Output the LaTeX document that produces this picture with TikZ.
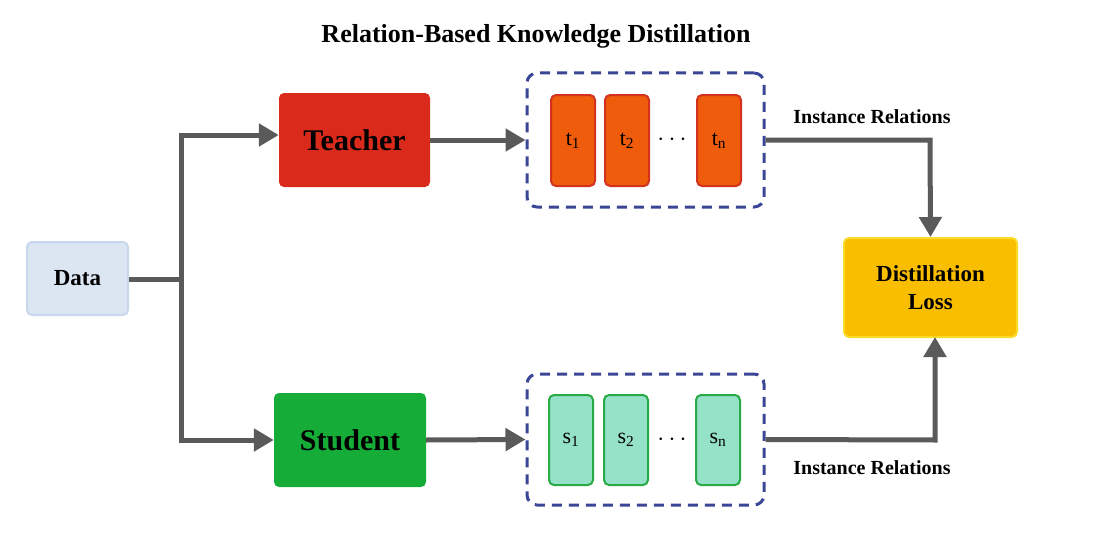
\documentclass[tikz,border=0pt]{standalone}
\usepackage{fontspec}
\setmainfont{Liberation Serif}
\usetikzlibrary{arrows.meta}
\definecolor{arr}{RGB}{90,90,90}
\definecolor{dblue}{RGB}{60,70,150}
\definecolor{datab}{RGB}{220,230,242}
\definecolor{datae}{RGB}{200,215,235}
\definecolor{tred}{RGB}{218,42,28}
\definecolor{sgreen}{RGB}{22,172,56}
\definecolor{torange}{RGB}{238,92,12}
\definecolor{tedge}{RGB}{210,50,30}
\definecolor{steal}{RGB}{150,226,200}
\definecolor{sedge}{RGB}{40,170,70}
\definecolor{gold}{RGB}{250,190,0}
\definecolor{goldedge}{RGB}{250,220,40}
\tikzset{
 box/.style={rounded corners=5pt, minimum width=#1, font=\bfseries\fontsize{30}{34}\selectfont},
 conn/.style={draw=arr, line width=5pt, -{Triangle[length=20pt,width=22pt]}},
 line/.style={draw=arr, line width=5pt},
 dbox/.style={draw=dblue, line width=3pt, dash pattern=on 10pt off 7pt, rounded corners=10pt},
 tcell/.style={fill=torange, draw=tedge, line width=2pt, rounded corners=5pt, minimum width=44pt, minimum height=91pt, font=\fontsize{22}{24}\selectfont},
 scell/.style={fill=steal, draw=sedge, line width=2pt, rounded corners=5pt, minimum width=44pt, minimum height=90pt, font=\fontsize{22}{24}\selectfont},
 lab/.style={font=\bfseries\fontsize{20}{22}\selectfont},
}
\begin{document}
\begin{tikzpicture}[x=1pt,y=-1pt]
\useasboundingbox (0,0) rectangle (1116,535);
\node[font=\bfseries\fontsize{26}{30}\selectfont] (title) at (536,36) {Relation-Based Knowledge Distillation};
\node[box=101pt, minimum height=73pt, fill=datab, draw=datae, line width=2pt, font=\bfseries\fontsize{23}{26}\selectfont] (data) at (77.5,278.5) {Data};
\node[box=151pt, minimum height=94pt, fill=tred] (teacher) at (354.5,140) {Teacher};
\node[box=152pt, minimum height=94pt, fill=sgreen] (student) at (350,440) {Student};
\node[dbox, minimum width=237pt, minimum height=134pt] (tbox) at (645.5,140) {};
\node[dbox, minimum width=237pt, minimum height=131pt] (sbox) at (645.5,439.5) {};
\node[tcell] (t1) at (573,140.5) {t\textsubscript{1}};
\node[tcell] (t2) at (627,140.5) {t\textsubscript{2}};
\node[tcell] (tn) at (719,140.5) {t\textsubscript{n}};
\node[font=\bfseries\fontsize{24}{26}\selectfont] (td) at (672,140) {$\cdots$};
\node[scell] (s1) at (571,440) {s\textsubscript{1}};
\node[scell] (s2) at (626,440) {s\textsubscript{2}};
\node[scell] (sn) at (718,440) {s\textsubscript{n}};
\node[font=\bfseries\fontsize{24}{26}\selectfont] (sd) at (672,440) {$\cdots$};
\node[box=173pt, minimum height=99pt, fill=gold, draw=goldedge, line width=2pt, align=center, font=\bfseries\fontsize{23}{28}\selectfont] (loss) at (930.5,287.5) {Distillation\\Loss};
\node[lab] (il1) at (872,117) {Instance Relations};
\node[lab] (il2) at (872,468) {Instance Relations};
\coordinate (j) at (181,279);
\coordinate (jt) at (181,135);
\coordinate (js) at (181,440);
\draw[line] (data.east|-j) -- (j);
\draw[conn] (js) -- (jt) -- (teacher.west|-jt);
\draw[conn] (jt) -- (js) -- (student.west|-js);
\draw[conn] (teacher.east) -- (tbox.west);
\draw[conn] (student.east) -- (sbox.west);
\draw[conn] (tbox.east) -- (930,140) -- (loss.north);
\draw[conn] (sbox.east) -- (935,440) -- (935,337);
\end{tikzpicture}
\end{document}
